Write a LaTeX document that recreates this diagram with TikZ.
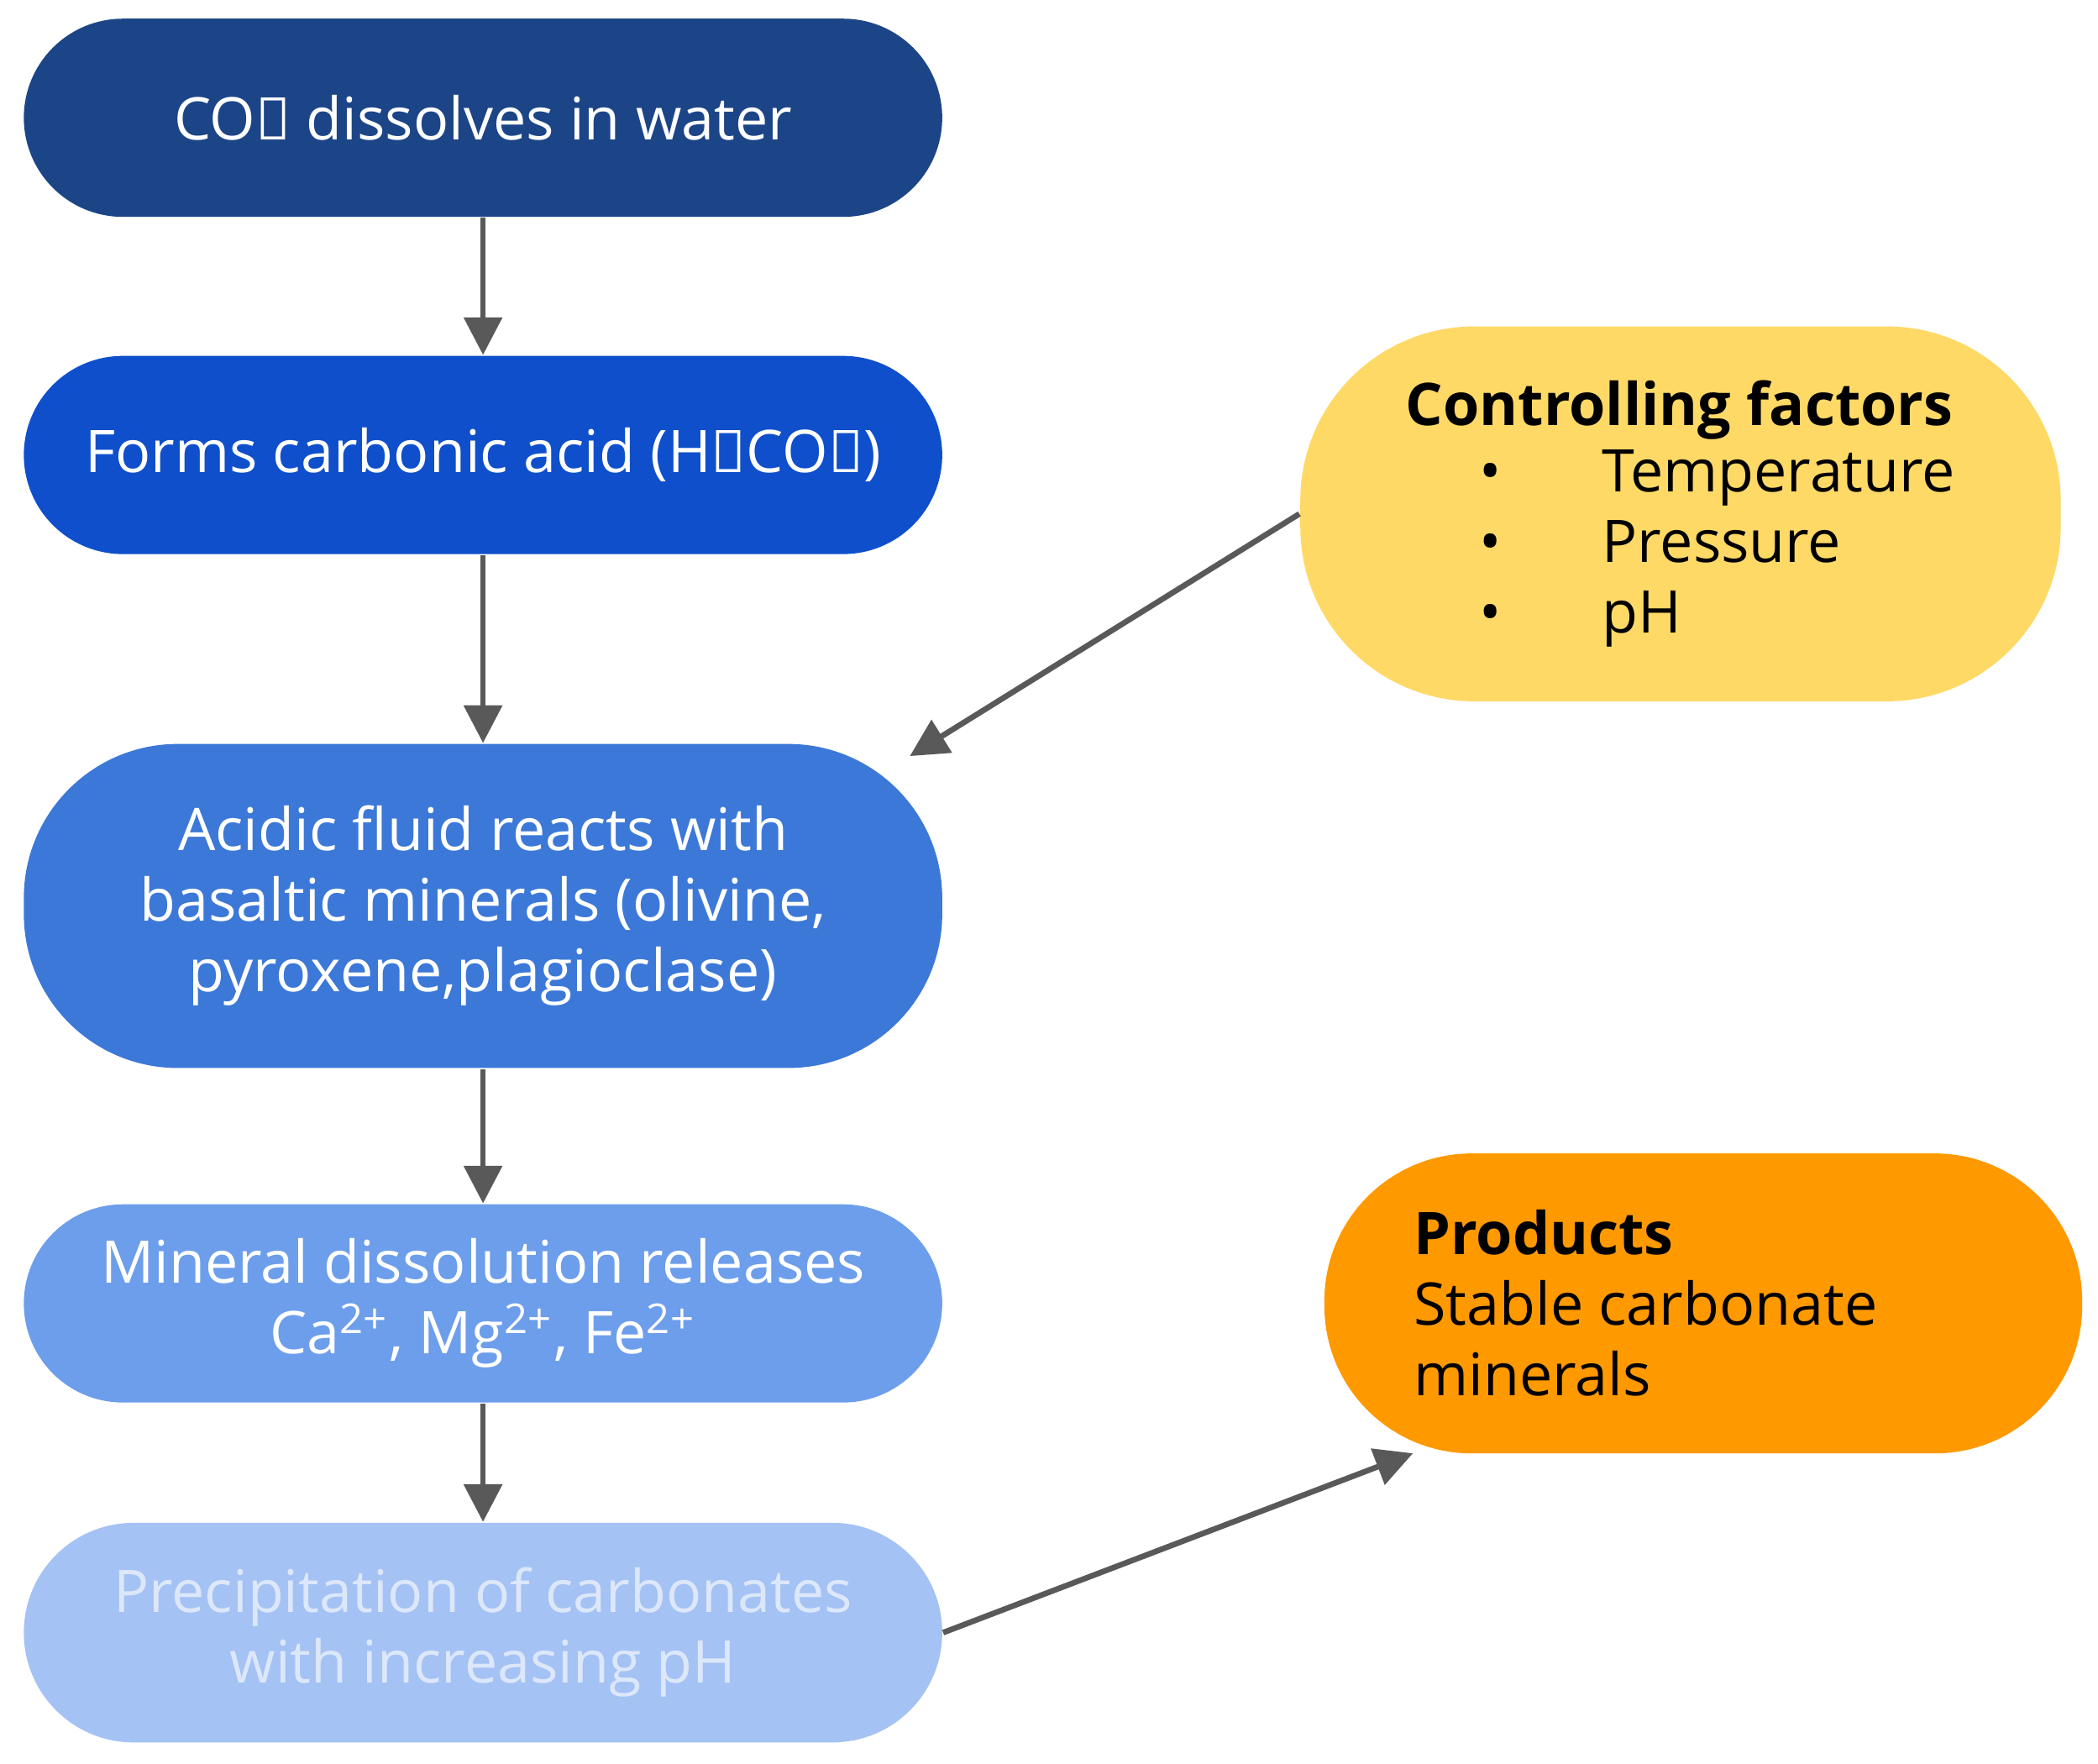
\documentclass[tikz,border=0pt]{standalone}
\usepackage{fontspec}
\setmainfont{Open Sans}
\usetikzlibrary{arrows.meta}
\definecolor{c1}{HTML}{1C4587}
\definecolor{c2}{HTML}{0F4FCC}
\definecolor{c3}{HTML}{3C78D8}
\definecolor{c4}{HTML}{6D9EEB}
\definecolor{c5}{HTML}{A4C2F4}
\definecolor{t5}{HTML}{DCE7FA}
\definecolor{cy}{HTML}{FFD966}
\definecolor{co}{HTML}{FF9900}
\definecolor{ar}{HTML}{595959}
\begin{document}
\begin{tikzpicture}[x=0.01cm,y=-0.01cm,
 box/.style={draw=none,minimum width=6.86cm,align=center,font=\fontsize{12.5}{15}\selectfont,text=white,inner sep=0pt},
 arr/.style={draw=ar,line width=1.2pt,-{Triangle[length=8pt,width=8pt]}}]
\useasboundingbox (0,0) rectangle (1568,1318);
\node[box,fill=c1,minimum height=1.48cm,rounded corners=0.74cm] (a) at (361,88) {CO₂ dissolves in water};
\node[box,fill=c2,minimum height=1.48cm,rounded corners=0.74cm] (b) at (361,340) {Forms carbonic acid (H₂CO₃)};
\node[box,fill=c3,minimum height=2.42cm,rounded corners=1.15cm] (c) at (361,677) {Acidic fluid reacts with\\basaltic minerals (olivine,\\pyroxene,plagioclase)};
\node[box,fill=c4,minimum height=1.48cm,rounded corners=0.74cm] (d) at (361,974) {Mineral dissolution releases\\Ca\textsuperscript{2+}, Mg\textsuperscript{2+}, Fe\textsuperscript{2+}};
\node[box,fill=c5,text=t5,minimum height=1.64cm,rounded corners=0.82cm] (e) at (361,1220) {Precipitation of carbonates\\with increasing pH};
\node[box,fill=cy,text=black,minimum width=5.68cm,minimum height=2.8cm,rounded corners=1.3cm,align=left] (f) at (1256,384) {\textbf{Controlling factors}\\[-1pt]
\hspace*{0.55cm}\textbullet\hspace{0.75cm}Temperature\\
\hspace*{0.55cm}\textbullet\hspace{0.75cm}Pressure\\
\hspace*{0.55cm}\textbullet\hspace{0.75cm}pH};
\node[box,fill=co,text=black,minimum width=5.66cm,minimum height=2.24cm,rounded corners=1.1cm] (g) at (1273,974) {};
\node[text=black,font=\fontsize{12.5}{15}\selectfont,align=left,anchor=west,inner sep=0pt] (gt) at (1056,974) {\textbf{Products}\\Stable carbonate\\minerals};
\draw[arr] (a) -- (b);
\draw[arr] (b) -- (c);
\draw[arr] (c) -- (d);
\draw[arr] (d) -- (e);
\coordinate (p1) at (680,565);
\coordinate (p2) at (1056,1086);
\draw[arr] (f.west) -- (p1);
\draw[arr] (e.east) -- (p2);
\end{tikzpicture}
\end{document}
